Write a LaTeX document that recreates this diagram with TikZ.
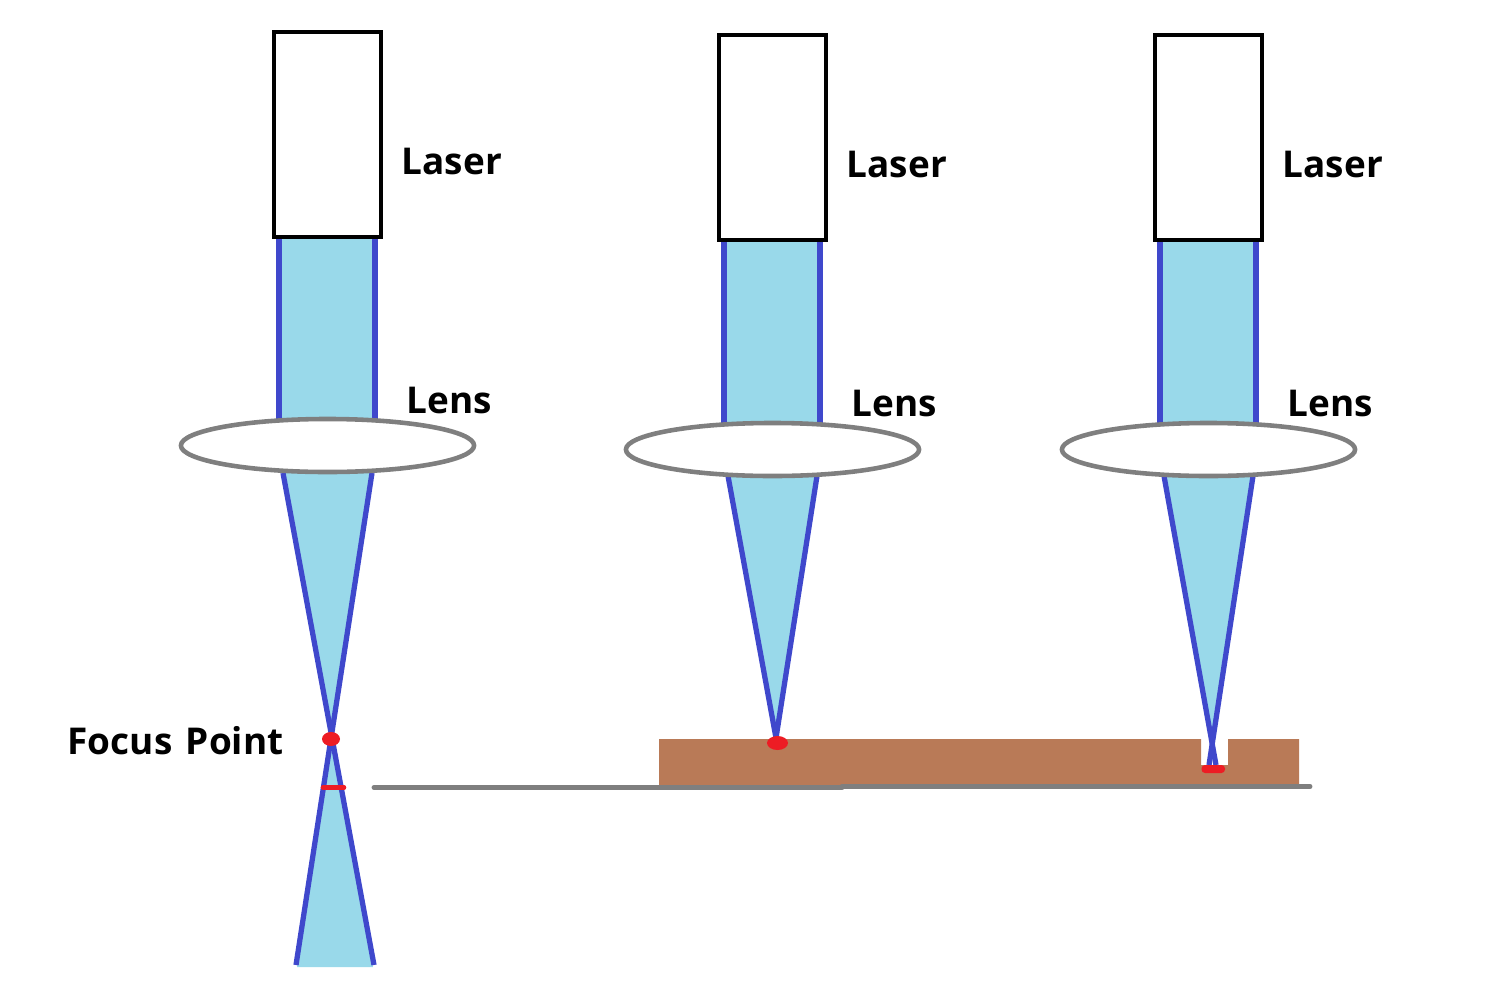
\documentclass[tikz,border=0pt]{standalone}
\usepackage{fontspec}
\setmainfont{Open Sans}[WordSpace=1.4]
\usetikzlibrary{shapes.geometric}
\definecolor{beamfill}{RGB}{153,217,234}
\definecolor{beamline}{RGB}{63,72,204}
\definecolor{spot}{RGB}{237,28,36}
\definecolor{plate}{RGB}{185,122,87}
\definecolor{lensgray}{RGB}{127,127,127}
\tikzset{
    laserbox/.style={draw=black, line width=1.35pt, fill=white, minimum width=1.07cm, minimum height=2.05cm, inner sep=0pt},
    lensoval/.style={ellipse, draw=lensgray, line width=1.3pt, fill=white, minimum width=2.93cm, minimum height=0.53cm, inner sep=0pt},
    beamedge/.style={draw=beamline, line width=1.5pt},
    tag/.style={anchor=base west, inner sep=0pt, font=\fontsize{10.5}{12}\selectfont\bfseries}
}

\begin{document}
\begin{tikzpicture}[x=0.01cm, y=-0.01cm]
    \useasboundingbox (0,0) rectangle (1500,1000);

    % work piece
    \fill[plate] (659,739) -- (1201,739) -- (1201,765) -- (1228,765) -- (1228,739) -- (1299,739) -- (1299,786) -- (659,786) -- cycle;
    \draw[lensgray, line width=1.4pt, line cap=round] (374,787.5) -- (842,787.5);
    \draw[lensgray, line width=1.4pt, line cap=round] (842,786.5) -- (1310,786.5);

    % left beam
    \fill[beamfill] (279,237) rectangle (375,430);
    \fill[beamfill] (283,465) -- (372,465) -- (331.5,735) -- (373,967) -- (297,967) -- (331.5,735) -- cycle;
    \draw[beamedge] (279,237) -- (279,425);
    \draw[beamedge] (375,237) -- (375,425);
    \draw[beamedge] (283,473) -- (374,965);
    \draw[beamedge] (372,473) -- (296,965);

    % middle beam
    \fill[beamfill] (724,240) rectangle (820,433);
    \fill[beamfill] (728,468) -- (817,468) -- (776,738) -- cycle;
    \draw[beamedge] (724,240) -- (724,428);
    \draw[beamedge] (820,240) -- (820,428);
    \draw[beamedge] (728,476) -- (776,738);
    \draw[beamedge] (817,476) -- (776,738);

    % right beam
    \fill[beamfill] (1160,240) rectangle (1256,433);
    \fill[beamfill] (1164,468) -- (1253,468) -- (1212.5,744) -- cycle;
    \draw[beamedge] (1160,240) -- (1160,428);
    \draw[beamedge] (1256,240) -- (1256,428);
    \draw[beamedge] (1164,476) -- (1216,765);
    \draw[beamedge] (1253,476) -- (1209,765);

    % lasers
    \node[laserbox] (laserA) at (327.5,134.5) {};
    \node[laserbox] (laserB) at (772.5,137.5) {};
    \node[laserbox] (laserC) at (1208.5,137.5) {};

    % lenses
    \node[lensoval] (lensA) at (327.5,445.5) {};
    \node[lensoval] (lensB) at (772.5,449.5) {};
    \node[lensoval] (lensC) at (1208.5,449.5) {};

    % red spots
    \fill[spot] (331,739) ellipse (9 and 7);
    \fill[spot] (777.5,743) ellipse (10.5 and 7);
    \draw[spot, line width=1.3pt, line cap=round] (323,787.5) -- (344,787.5);
    \fill[spot, rounded corners=1pt] (1201.5,765) rectangle (1225,773);

    % labels
    \node[tag] (laserAtext) at (401,174) {Laser};
    \node[tag] (laserBtext) at (846,177) {Laser};
    \node[tag] (laserCtext) at (1282,177) {Laser};
    \node[tag] (lensAtext) at (406,413) {Lens};
    \node[tag] (lensBtext) at (851,416) {Lens};
    \node[tag] (lensCtext) at (1287,416) {Lens};
    \node[tag] (focustext) at (67,754) {Focus Point};
\end{tikzpicture}
\end{document}
